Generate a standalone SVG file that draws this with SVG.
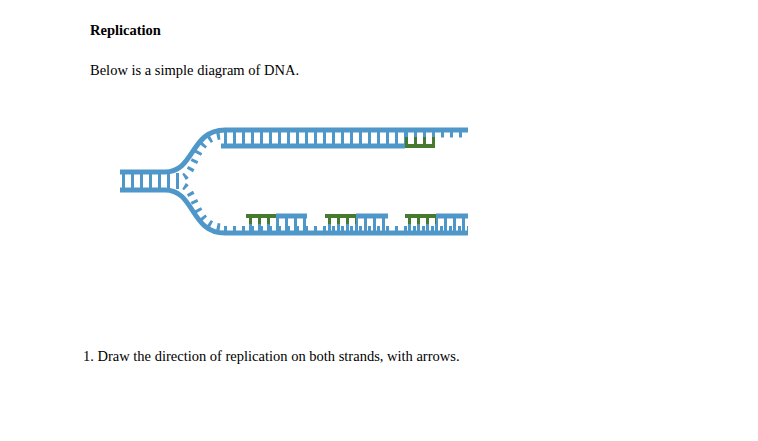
<svg xmlns="http://www.w3.org/2000/svg" width="758" height="441" viewBox="0 0 758 441">
<style>
.t{font-family:"Liberation Serif",serif;font-size:14.5px;fill:#000}
.s{fill:none;stroke:#4f97c9;stroke-width:5}
.r{fill:none;stroke:#4f97c9;stroke-dasharray:3 6}
.g{fill:none;stroke:#457a30;stroke-width:4}
.gr{fill:none;stroke:#457a30;stroke-dasharray:3 6}
</style>
<rect width="758" height="441" fill="#fff"/>
<text class="t" x="90" y="35" font-weight="bold">Replication</text>
<text class="t" x="90" y="75">Below is a simple diagram of DNA.</text>
<text class="t" x="83" y="361">1. Draw the direction of replication on both strands, with arrows.</text>
<g id="dna">
<path class="r" d="M122,181 L184,181" stroke-width="16"/>
<path class="r" d="M184,177 C196,170 196,137 222,136" stroke-width="7" stroke-dasharray="2.5 5"/>
<path class="r" d="M184,186 C196,193 196,226 222,227" stroke-width="7" stroke-dasharray="2.5 5"/>
<path class="r" d="M224,138 L405,138" stroke-width="14"/>
<path class="r" d="M405,134 L468,134" stroke-width="7"/>
<path class="gr" d="M405,141 L435,141" stroke-width="8"/>
<path class="r" d="M224,229.5 L468,229.5" stroke-width="7"/>
<path class="r" d="M249,224 L307,224" stroke-width="16"/>
<path class="r" d="M328,224 L388,224" stroke-width="16"/>
<path class="r" d="M408,224 L468,224" stroke-width="16"/>
<path class="gr" d="M249,220 L276,220" stroke-width="8"/>
<path class="gr" d="M328,220 L356,220" stroke-width="8"/>
<path class="gr" d="M408,220 L436,220" stroke-width="8"/>
<path class="s" d="M120,172 L165,172 C195,172 190,130 225,130 L468,130"/>
<path class="s" d="M120,190 L165,190 C195,190 190,233 225,233 L468,233"/>
<path class="s" d="M221,146 L405,146"/>
<path class="g" d="M405,146 L435,146"/>
<path class="g" d="M246,216 L276,216"/><path class="s" d="M276,216 L307,216"/>
<path class="g" d="M325,216 L356,216"/><path class="s" d="M356,216 L388,216"/>
<path class="g" d="M405,216 L436,216"/><path class="s" d="M436,216 L468,216"/>
</g>
</svg>
